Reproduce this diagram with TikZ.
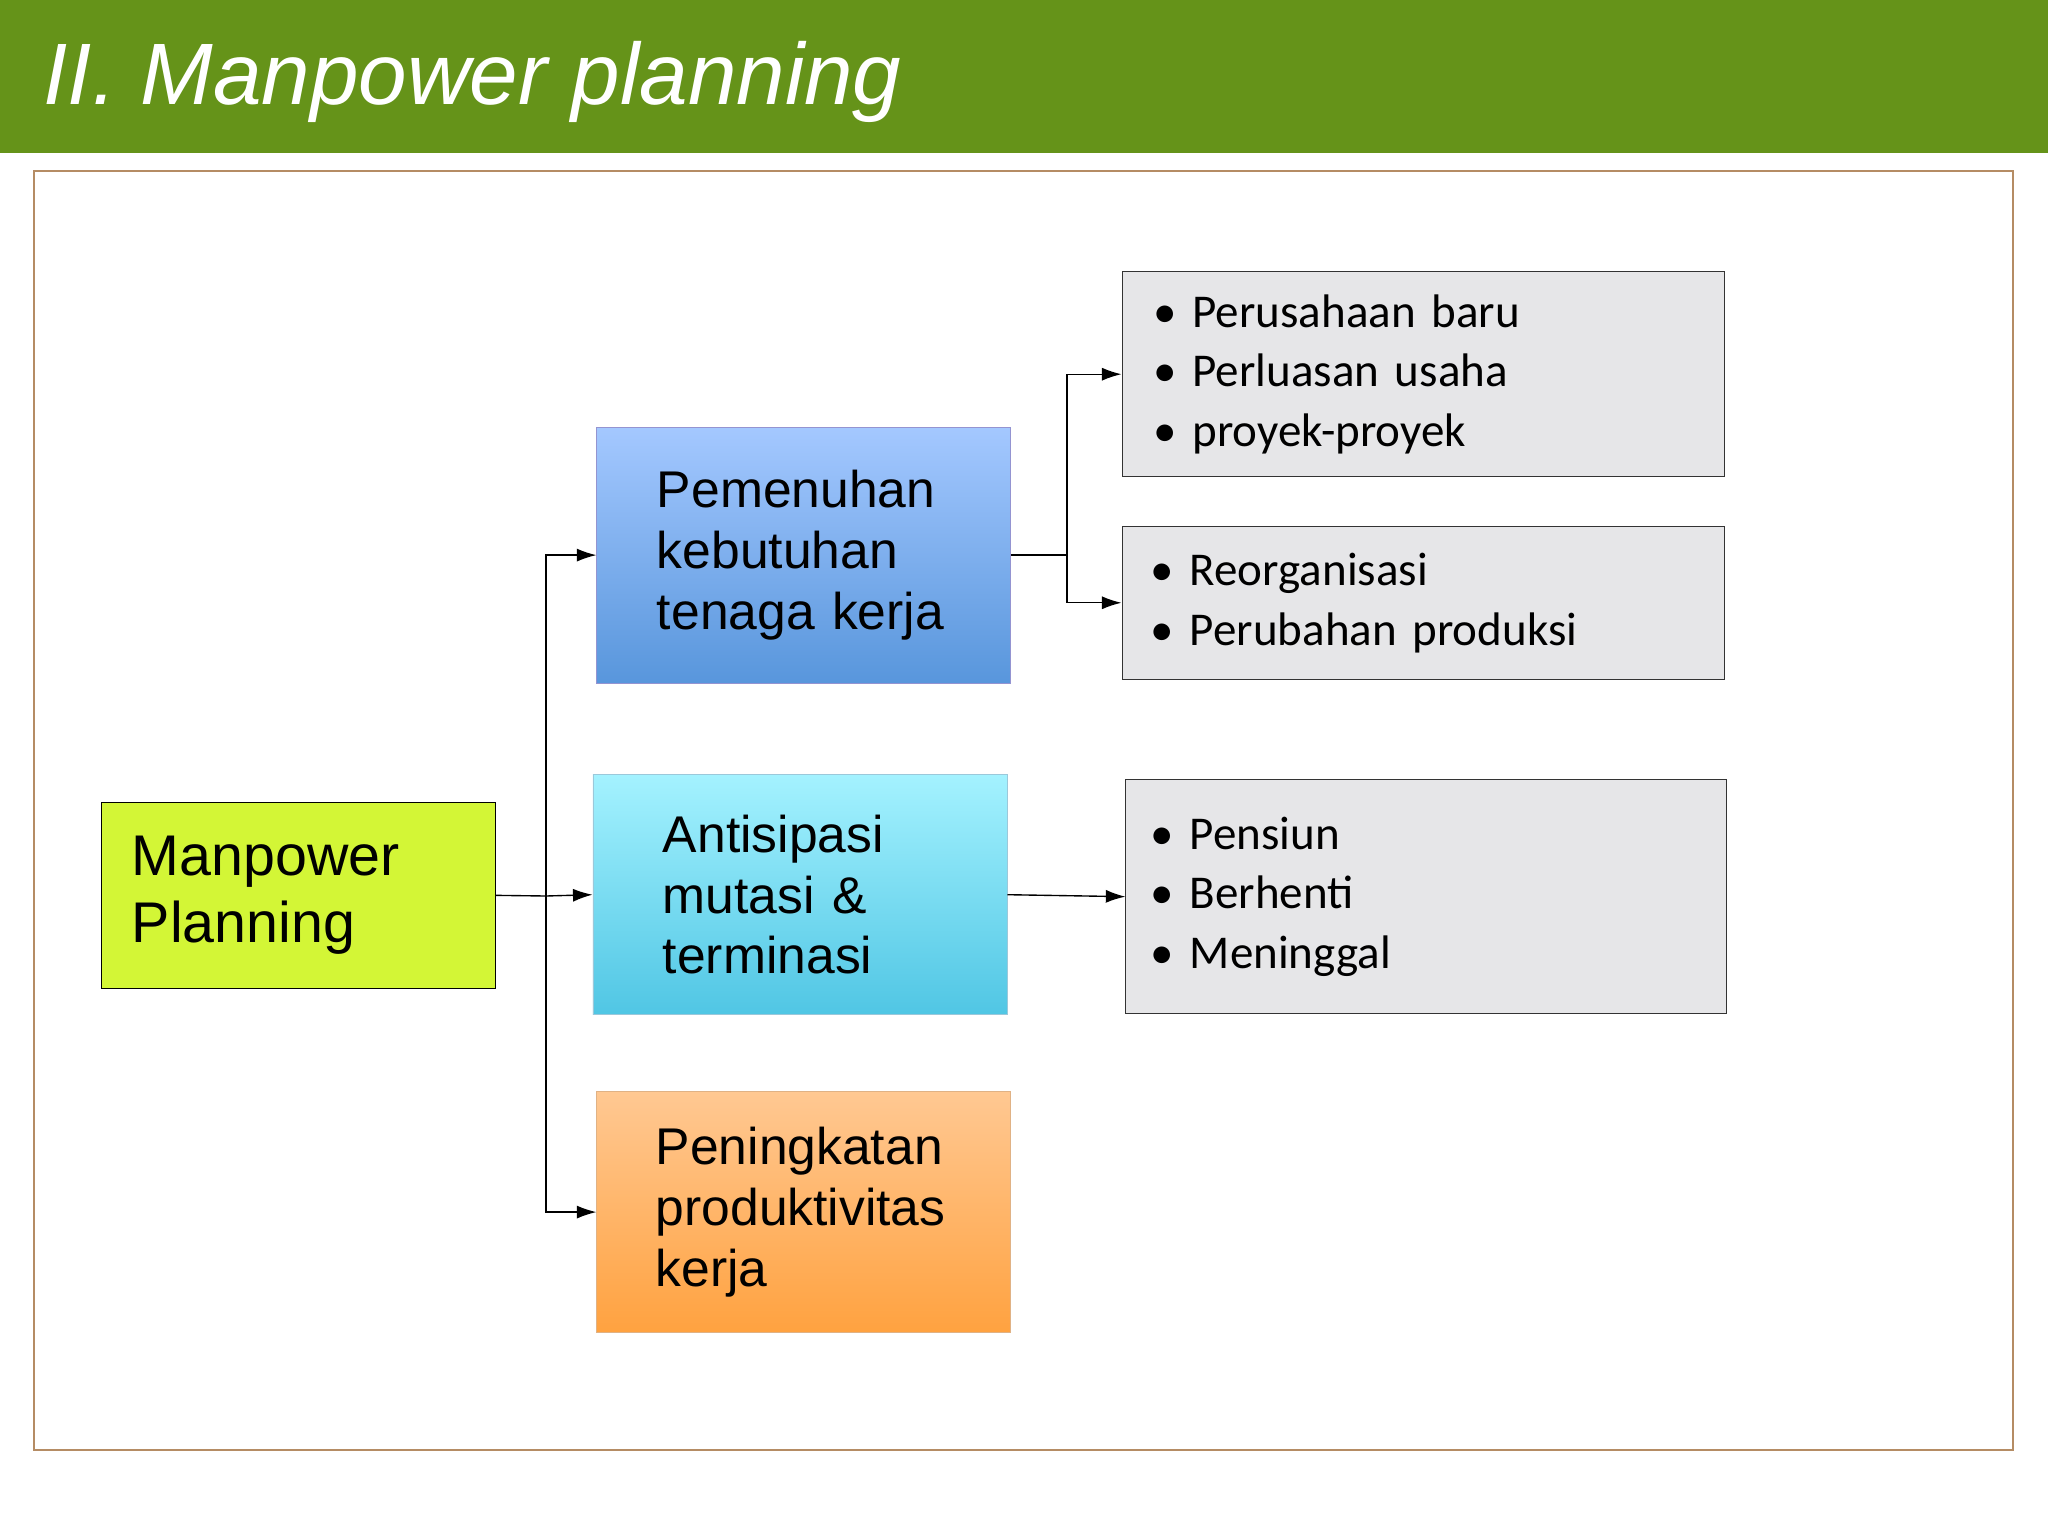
\documentclass[tikz,border=0pt]{standalone}
\usepackage{fontspec}
\setmainfont{Liberation Sans}
\newfontfamily\bulletfont{Carlito}
\usetikzlibrary{positioning,arrows.meta}
\definecolor{headgreen}{HTML}{659319}
\definecolor{framebrown}{HTML}{B58C64}
\definecolor{limebox}{HTML}{D3F636}
\definecolor{graybox}{HTML}{E6E6E8}
\tikzset{
  mainbox/.style={draw, rectangle, inner xsep=0pt, align=left, font=\fontsize{22.5}{26.5}\selectfont},
  listbox/.style={draw=black!80, fill=graybox, rectangle, align=left, inner xsep=0pt, font=\bulletfont\fontsize{20.5}{26}\selectfont},
  link/.style={-{Latex[length=3mm,width=2mm]}, line width=0.6pt}
}
\begin{document}
\begin{tikzpicture}[x=0.02cm,y=-0.02cm]
  \useasboundingbox (0,0) rectangle (1568,1176);
  \fill[white] (0,0) rectangle (1568,1176);
  \fill[headgreen] (0,0) rectangle (1568,117);
  \node[anchor=base west, text=white, inner sep=0pt, font=\itshape\fontsize{38}{40}\selectfont] (title) at (33,80) {II. Manpower planning};
  \draw[framebrown, line width=0.8pt] (26,131) rectangle (1541,1110);

  \node[mainbox, fill=limebox, minimum width={301*0.02cm}, minimum height={143*0.02cm}, text width={255*0.02cm}, font=\fontsize{25}{29.5}\selectfont] (mp) at (228.5,685.5) {Manpower\\Planning};
  \node[mainbox, draw=blue!40!gray!60, top color={rgb,255:red,164;green,200;blue,255}, bottom color={rgb,255:red,88;green,150;blue,220}, minimum width={317*0.02cm}, minimum height={196*0.02cm}, text width={225*0.02cm}] (need) at (615.5,425) {Pemenuhan\\kebutuhan\\tenaga kerja};
  \node[mainbox, draw=cyan!50!gray!60, top color={rgb,255:red,164;green,242;blue,255}, bottom color={rgb,255:red,80;green,198;blue,228}, minimum width={317*0.02cm}, minimum height={184*0.02cm}, text width={210*0.02cm}] (anti) at (612.5,685) {Antisipasi\\mutasi \&\\terminasi};
  \node[mainbox, draw=orange!60!gray!60, top color={rgb,255:red,255;green,200;blue,146}, bottom color={rgb,255:red,255;green,162;blue,64}, minimum width={317*0.02cm}, minimum height={184*0.02cm}, text width={227*0.02cm}] (prod) at (615.5,928) {Peningkatan\\produktivitas\\kerja};

  \node[listbox, minimum width={461*0.02cm}, minimum height={157*0.02cm}, text width={413*0.02cm}] (newbiz) at (1089.5,286.5) {\textbullet\ Perusahaan baru\\\textbullet\ Perluasan usaha\\\textbullet\ proyek-proyek};
  \node[listbox, minimum width={461*0.02cm}, minimum height={117*0.02cm}, text width={417*0.02cm}] (reorg) at (1089.5,461.5) {\textbullet\ Reorganisasi\\\textbullet\ Perubahan produksi};
  \node[listbox, minimum width={460*0.02cm}, minimum height={179*0.02cm}, text width={422*0.02cm}] (retire) at (1092,686.5) {\textbullet\ Pensiun\\\textbullet\ Berhenti\\\textbullet\ Meninggal};

  \coordinate (split) at (418,686);
  \draw[line width=0.6pt] (mp.east) -- (split);
  \draw[link] (split) |- (need.west);
  \draw[link] (split) -- (anti.west);
  \draw[link] (split) |- (prod.west);
  \coordinate (fork) at (817,425);
  \draw[line width=0.6pt] (need.east) -- (fork);
  \draw[link] (fork) |- (newbiz.west);
  \draw[link] (fork) |- (reorg.west);
  \draw[link] (anti.east) -- (retire.west);
\end{tikzpicture}
\end{document}
